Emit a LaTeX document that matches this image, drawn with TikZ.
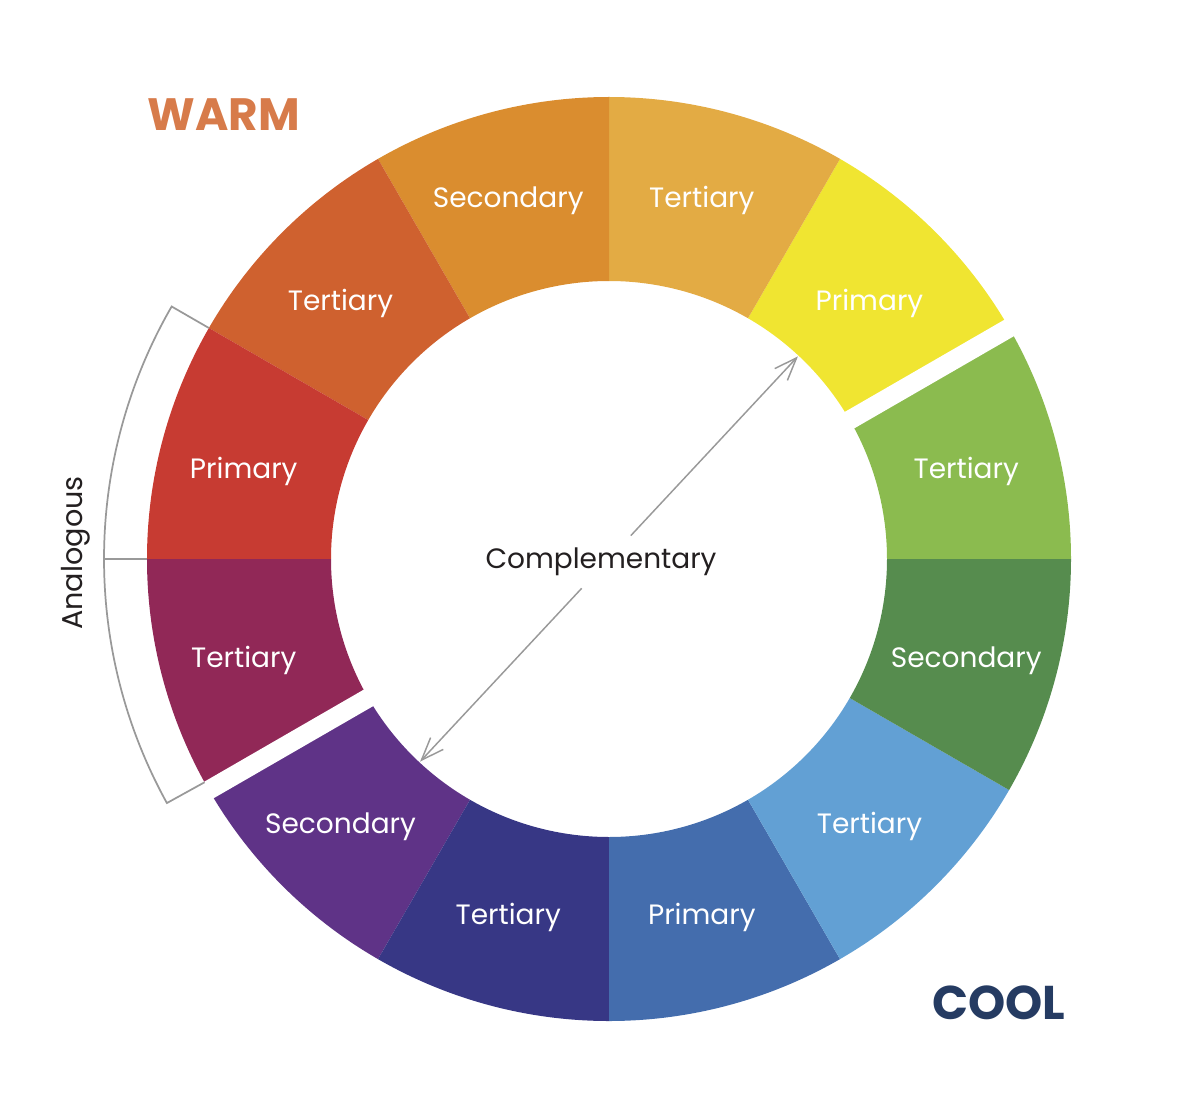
\documentclass[tikz,border=0pt]{standalone}
\usepackage{fontspec}
\setmainfont{Poppins}
\usetikzlibrary{arrows.meta}

\definecolor{tertgreen}{HTML}{8BBB4F}
\definecolor{primyellow}{HTML}{F0E531}
\definecolor{tertgold}{HTML}{E3AB44}
\definecolor{secorange}{HTML}{DA8D2F}
\definecolor{tertrust}{HTML}{CF612F}
\definecolor{primred}{HTML}{C73B32}
\definecolor{tertmaroon}{HTML}{912857}
\definecolor{secpurple}{HTML}{5F3387}
\definecolor{tertindigo}{HTML}{373785}
\definecolor{primblue}{HTML}{446DAD}
\definecolor{tertsky}{HTML}{62A0D4}
\definecolor{secgreen}{HTML}{568C4E}
\definecolor{warmtext}{HTML}{D77B4A}
\definecolor{cooltext}{HTML}{253B62}
\definecolor{guidegray}{HTML}{999999}
\definecolor{darktext}{HTML}{231F20}

\tikzset{
  seglabel/.style={text=white, font=\fontsize{21}{24}\selectfont},
  bracketline/.style={draw=guidegray, line width=1.3pt},
  pointer/.style={draw=guidegray, line width=1.1pt,
    -{Straight Barb[length=17pt, width=13pt, line width=1.1pt]}}
}

\begin{document}
\begin{tikzpicture}[x=0.75pt, y=0.75pt]
  \useasboundingbox (-609,-537) rectangle (592,559);
  % The twelve segments, counterclockwise from the east
  \foreach \ang/\col/\lab/\dy in {
    0/tertgreen/Tertiary/-9,
    30/primyellow/Primary/-9,
    60/tertgold/Tertiary/-3,
    90/secorange/Secondary/-3,
    120/tertrust/Tertiary/-9,
    150/primred/Primary/-9,
    180/tertmaroon/Tertiary/-5,
    210/secpurple/Secondary/-3,
    240/tertindigo/Tertiary/3,
    270/primblue/Primary/3,
    300/tertsky/Tertiary/-3,
    330/secgreen/Secondary/-5} {
    \fill [\col] (\ang:278) arc [start angle=\ang, end angle=\ang+30, radius=278]
      -- (\ang+30:462) arc [start angle=\ang+30, end angle=\ang, radius=462] -- cycle;
    \node [seglabel] (seg\ang) at ([shift={(-4,\dy)}]\ang+15:374) {\lab};
  }

  % White gap between the warm and the cool half
  \draw [white, line width=14.25pt] (30:260) -- (30:480);
  \draw [white, line width=14.25pt] (210:260) -- (210:480);

  % Bracket round the analogous pair
  \draw [bracketline] (150:462) -- (150:505)
    arc [start angle=150, end angle=208.9, radius=505] -- (208.9:462);
  \draw [bracketline] (180:462) -- (180:505);
  \node [rotate=90, text=darktext, font=\fontsize{21.5}{24}\selectfont] (analog) at (-533,6) {Analogous};

  % Complementary arrows across the wheel
  \node [text=darktext, font=\fontsize{21}{24}\selectfont] (comp) at (-8,-3) {Complementary};
  \coordinate (upstart) at (47:32);
  \coordinate (uptip) at (47:277);
  \coordinate (downstart) at (227:40);
  \coordinate (downtip) at (227:277);
  \draw [pointer] (upstart) -- (uptip);
  \draw [pointer] (downstart) -- (downtip);

  % Warm and cool captions
  \node [text=warmtext, font=\fontsize{34}{40}\selectfont\bfseries] (warm) at (-385,444) {WARM};
  \node [text=cooltext, font=\fontsize{35.5}{40}\selectfont\bfseries] (cool) at (390,-444) {COOL};
\end{tikzpicture}
\end{document}
